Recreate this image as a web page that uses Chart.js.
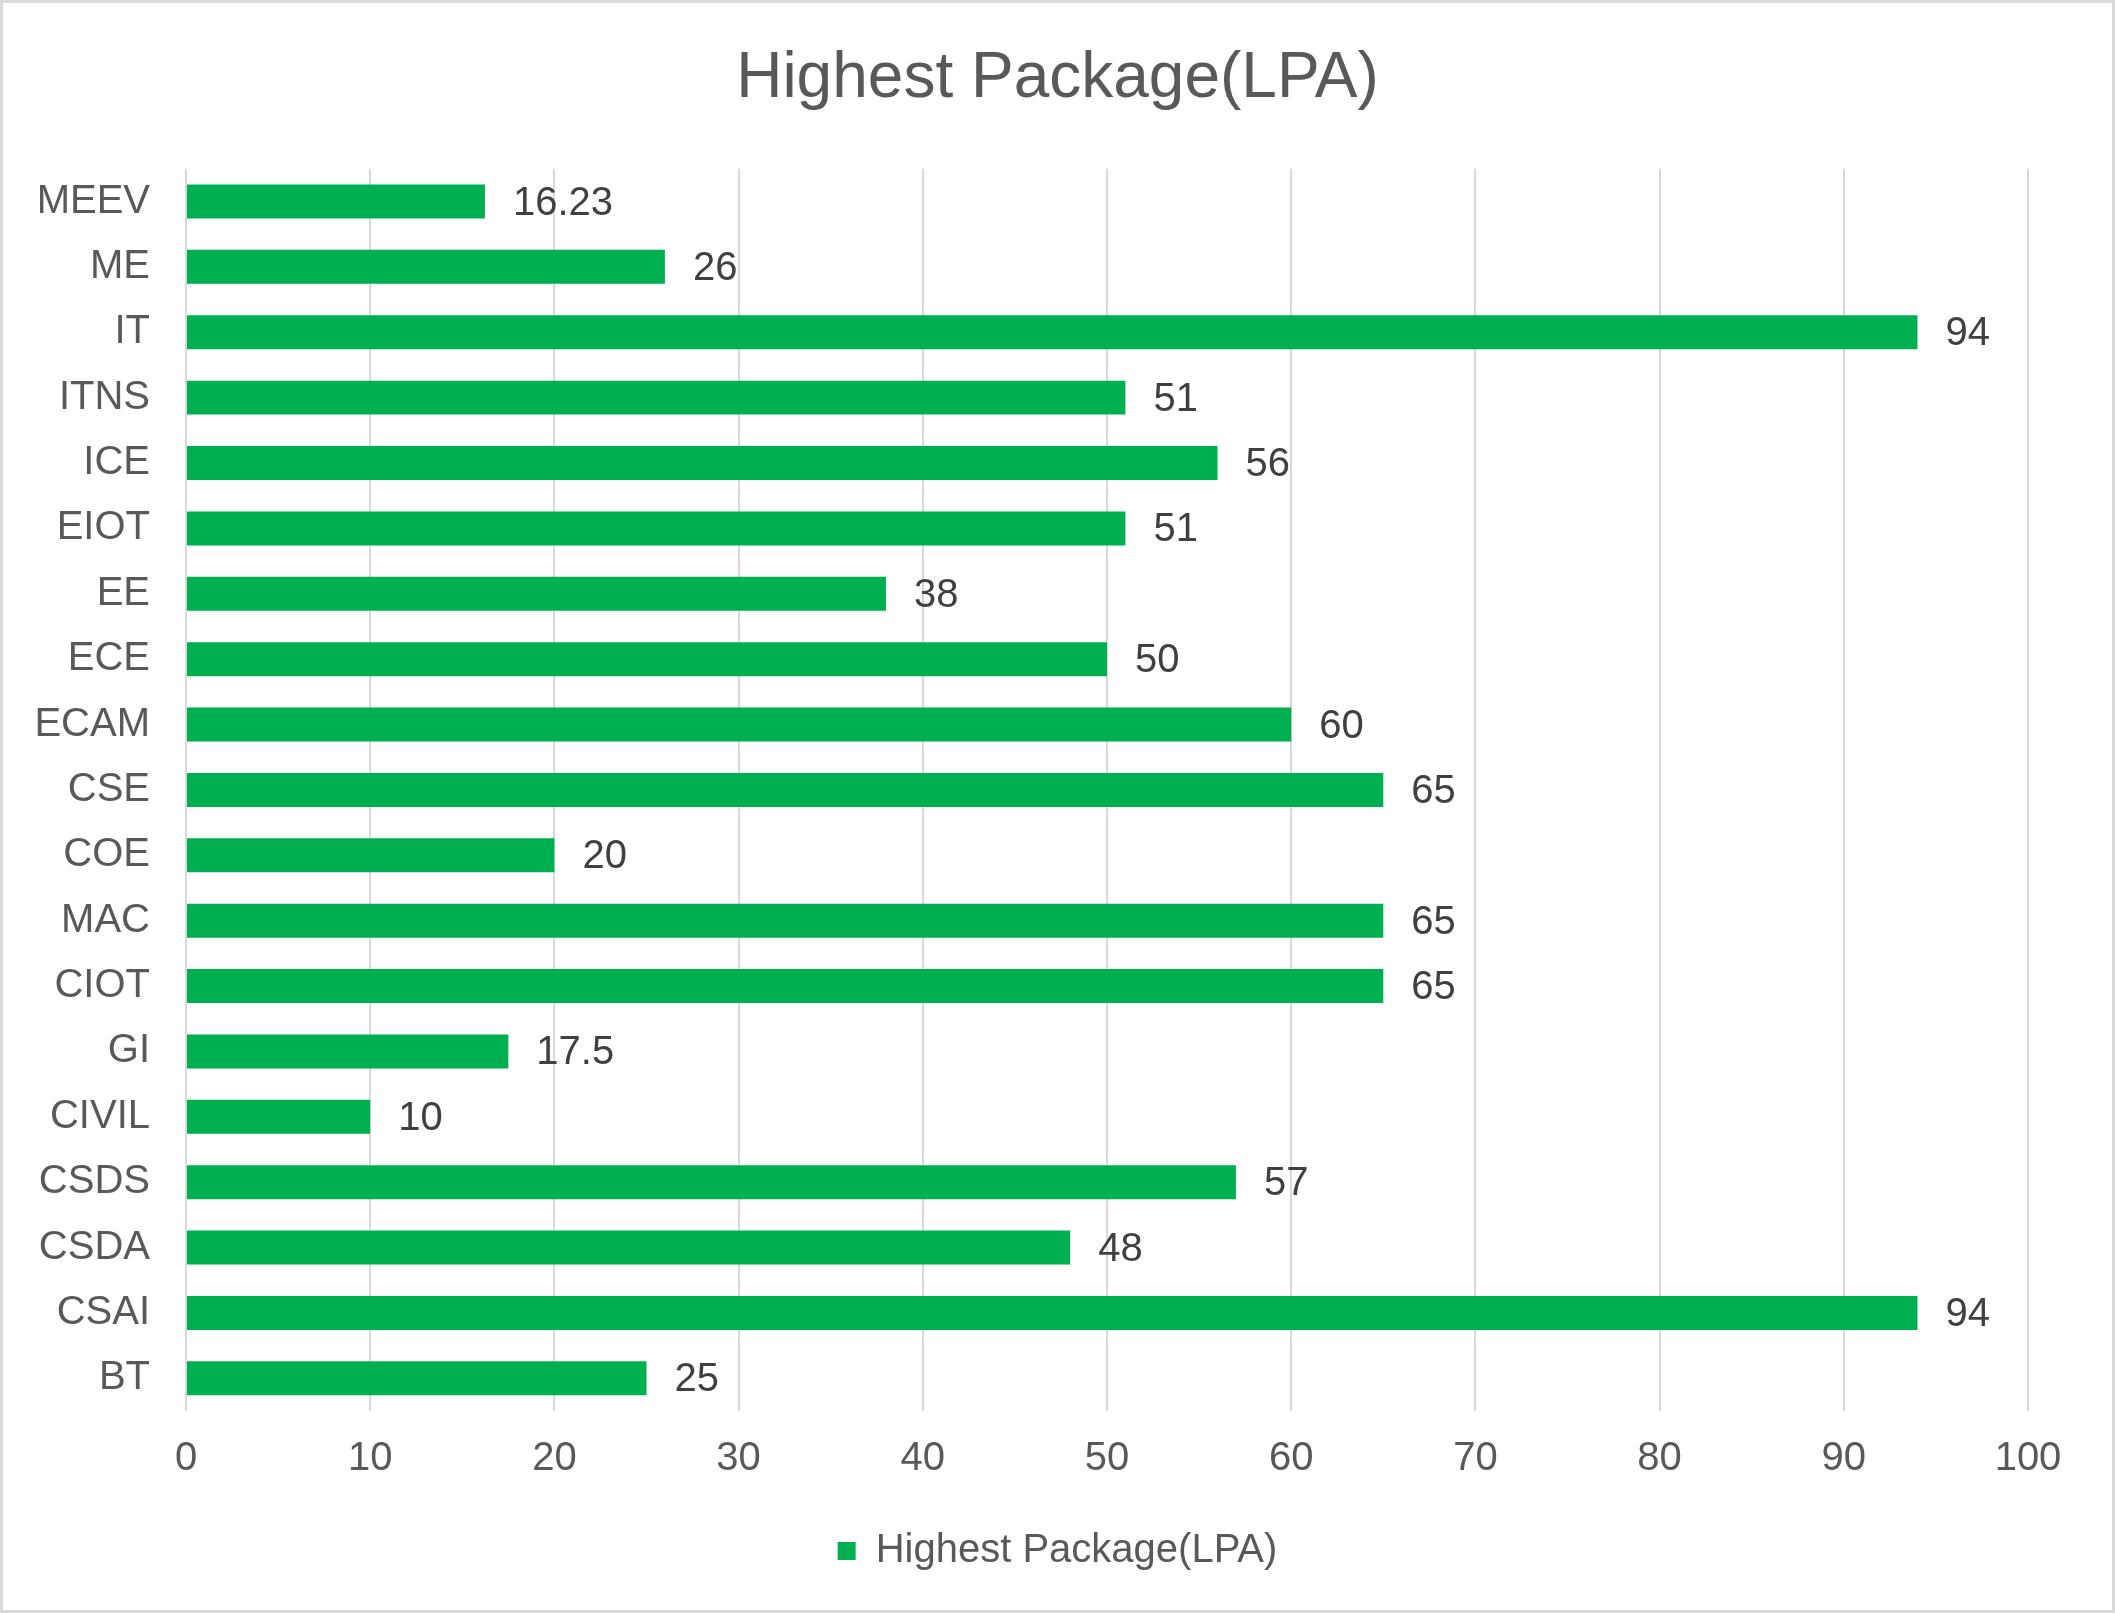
<!DOCTYPE html>
<html>
<head>
<meta charset="utf-8">
<script src="https://cdn.jsdelivr.net/npm/chart.js@4.4.1/dist/chart.umd.min.js"></script>
<style>
  html, body { margin: 0; padding: 0; background: #ffffff; }
  canvas { display: block; }
</style>
</head>
<body>
<canvas id="c" width="2115" height="1613" style="width:2115px;height:1613px"></canvas>
<script>
const categories = ["MEEV", "ME", "IT", "ITNS", "ICE", "EIOT", "EE", "ECE", "ECAM", "CSE", "COE", "MAC", "CIOT", "GI", "CIVIL", "CSDS", "CSDA", "CSAI", "BT"];
const highestPackage = [16.23, 26, 94, 51, 56, 51, 38, 50, 60, 65, 20, 65, 65, 17.5, 10, 57, 48, 94, 25];
const seriesName = "Highest Package(LPA)";
const chartTitle = "Highest Package(LPA)";
const xTickValues = [0, 10, 20, 30, 40, 50, 60, 70, 80, 90, 100];

const FONT = "'Liberation Sans', Arial, sans-serif";
const GREEN = "#00B050";

const borderPlugin = {
  id: 'frame',
  beforeDraw(chart) {
    const ctx = chart.ctx;
    ctx.save();
    ctx.fillStyle = '#ffffff';
    ctx.fillRect(0, 0, chart.width, chart.height);
    ctx.restore();
  },
  afterDraw(chart) {
    const ctx = chart.ctx;
    ctx.save();
    ctx.strokeStyle = '#D9D9D9';
    ctx.lineWidth = 3;
    ctx.strokeRect(1.5, 1.5, chart.width - 3, chart.height - 3);
    ctx.restore();
  }
};

const valueLabels = {
  id: 'valueLabels',
  afterDatasetsDraw(chart) {
    const ctx = chart.ctx;
    const meta = chart.getDatasetMeta(0);
    const data = chart.data.datasets[0].data;
    ctx.save();
    ctx.font = "40px " + FONT;
    ctx.fillStyle = '#404040';
    ctx.textAlign = 'left';
    ctx.textBaseline = 'middle';
    meta.data.forEach((bar, i) => {
      ctx.fillText(String(data[i]), bar.x + 28, bar.y + 2);
    });
    ctx.restore();
  }
};

new Chart(document.getElementById('c'), {
  type: 'bar',
  data: {
    labels: categories,
    datasets: [{
      label: seriesName,
      data: highestPackage,
      backgroundColor: GREEN,
      borderWidth: 0,
      barPercentage: 0.52,
      categoryPercentage: 1.0
    }]
  },
  options: {
    indexAxis: 'y',
    responsive: false,
    animation: false,
    layout: { padding: { left: 0, right: 0, top: 0, bottom: 32 } },
    plugins: {
      title: {
        display: true,
        text: chartTitle,
        color: '#595959',
        font: { family: FONT, size: 64, weight: 'normal', lineHeight: 1.2 },
        padding: { top: 41, bottom: 51 }
      },
      legend: {
        display: true,
        position: 'bottom',
        labels: {
          color: '#595959',
          font: { family: FONT, size: 40 },
          boxWidth: 18,
          boxHeight: 18,
          padding: 24
        }
      },
      tooltip: { enabled: false }
    },
    scales: {
      x: {
        type: 'linear',
        min: 0,
        max: 100,
        afterBuildTicks(scale) { scale.ticks = xTickValues.map(v => ({ value: v })); },
        afterFit(scale) { scale.paddingRight = 87; },
        grid: { color: '#D9D9D9', lineWidth: 2, drawTicks: false },
        border: { display: false },
        ticks: {
          color: '#595959',
          font: { family: FONT, size: 40 },
          padding: 24
        }
      },
      y: {
        afterFit(scale) { scale.width = 186; },
        grid: { display: false, drawTicks: false },
        border: { display: false },
        ticks: {
          color: '#595959',
          font: { family: FONT, size: 40 },
          padding: 36
        }
      }
    }
  },
  plugins: [borderPlugin, valueLabels]
});
</script>
</body>
</html>
